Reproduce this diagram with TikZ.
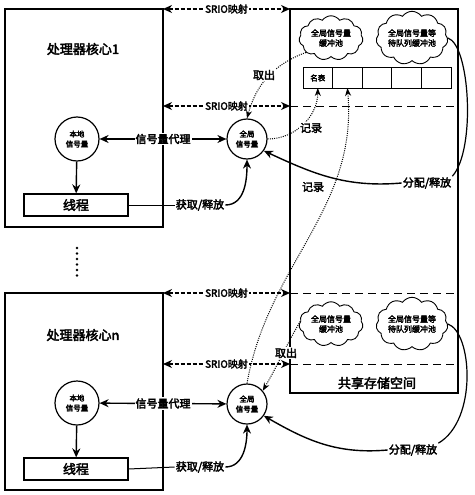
\documentclass[tikz,border=0pt]{standalone}
\usepackage{fontspec}
\setmainfont{Noto Sans CJK SC}[AutoFakeBold=3]
\usetikzlibrary{arrows.meta,positioning,shapes.symbols,calc}

\begin{document}
\begin{tikzpicture}[x=1pt,y=-1pt,
  corebox/.style={draw,line width=1.2pt,minimum width=158pt,inner sep=0pt,outer sep=0pt},
  threadbox/.style={draw,line width=1.2pt,minimum width=104pt,minimum height=22pt,inner sep=0pt,font=\bfseries\fontsize{13}{14}\selectfont},
  locsem/.style={draw,circle,line width=1.2pt,minimum size=44pt,inner sep=0pt,align=center,font=\bfseries\fontsize{7.5}{10}\selectfont},
  glbsem/.style={locsem,minimum size=40pt},
  pool/.style={draw,cloud,cloud puffs=11,cloud puff arc=110,aspect=1.5,line width=.9pt,inner sep=0pt,minimum width=64pt,minimum height=44pt,align=center,font=\bfseries\fontsize{8}{10}\selectfont},
  cell/.style={draw,line width=1pt,minimum width=29.6pt,minimum height=20pt,inner sep=0pt,outer sep=0pt,font=\bfseries\fontsize{7.5}{9}\selectfont},
  lbl/.style={font=\bfseries\fontsize{11}{12}\selectfont,inner sep=1pt},
  title/.style={font=\bfseries\fontsize{13}{14}\selectfont},
  srio/.style={{Stealth[length=9pt,width=8pt]}-{Stealth[length=9pt,width=8pt]},line width=1.4pt,dash pattern=on 4pt off 2pt},
  border/.style={line width=1pt,dash pattern=on 8pt off 5pt},
  solidarr/.style={-{Stealth[length=9pt,width=8pt]},line width=1.4pt},
  dotarr/.style={-{Stealth[length=8pt,width=6pt]},line width=1pt,dash pattern=on 1pt off 1.2pt},
]
\useasboundingbox (0,0) rectangle (474,495);

% processor core 1
\node[corebox,minimum height=218pt] (core1) at (84,118) {};
\node[title] (name1) at (83,49) {处理器核心1};
\node[locsem] (loc1) at (77,139) {本地\\信号量};
\node[threadbox] (thr1) at (76,205) {线程};
\node[glbsem] (glb1) at (247,139) {全局\\信号量};
\node[lbl] (get1) at (200,205) {获取/释放};

% processor core n
\node[corebox,minimum height=197pt] (coren) at (84,391.5) {};
\node[title] (namen) at (83,335) {处理器核心n};
\node[locsem] (locn) at (77,403) {本地\\信号量};
\node[threadbox] (thrn) at (76,469) {线程};
\node[glbsem] (glbn) at (247,404) {全局\\信号量};
\node[lbl] (getn) at (200,467) {获取/释放};

\foreach \y in {248,253.5,...,276} \fill (77,\y) circle (1.3pt);

% shared memory
\node[draw,line width=1.2pt,minimum width=168pt,minimum height=384pt,inner sep=0pt,outer sep=0pt] (shm) at (374,201) {};
\node[title] (shmname) at (377,383) {共享存储空间};
\node[pool] (pool1) at (331,38) {全局信号量\\缓冲池};
\node[pool,minimum width=68pt] (wait1) at (412,38) {全局信号量等\\待队列缓冲池};
\node[pool] (pooln) at (331,324) {全局信号量\\缓冲池};
\node[pool,minimum width=68pt] (waitn) at (412,324) {全局信号量等\\待队列缓冲池};
\node[cell] (c1) at (317.8,78) {名表};
\foreach \i [count=\prev from 1] in {2,...,5}
  \node[cell,right=0pt of c\prev] (c\i) {};

\coordinate (m1w) at (shm.west |- 0,106);
\coordinate (m1e) at (shm.east |- 0,106);
\coordinate (m2w) at (shm.west |- 0,293);
\coordinate (m2e) at (shm.east |- 0,293);
\coordinate (m3w) at (shm.west |- 0,364);
\coordinate (m3e) at (shm.east |- 0,364);
\draw[border] (m1w) -- (m1e);
\draw[border] (m2w) -- (m2e);
\draw[border] (m3w) -- (m3e);

% SRIO mapping
\draw[srio] (core1.north east) -- (shm.north west)
  node[midway,fill=white,inner sep=1pt,font=\bfseries\fontsize{10}{11}\selectfont] (srio1) {SRIO映射};
\draw[srio] (core1.east |- m1w) -- (m1w)
  node[midway,fill=white,inner sep=1pt,font=\bfseries\fontsize{10}{11}\selectfont] (srio2) {SRIO映射};
\draw[srio] (coren.north east) -- (m2w)
  node[midway,fill=white,inner sep=1pt,font=\bfseries\fontsize{10}{11}\selectfont] (srio3) {SRIO映射};
\draw[srio] (coren.east |- m3w) -- (m3w)
  node[midway,fill=white,inner sep=1pt,font=\bfseries\fontsize{10}{11}\selectfont] (srio4) {SRIO映射};

% core 1 links
\draw[solidarr,{Stealth[length=9pt,width=8pt]}-{Stealth[length=9pt,width=8pt]}] (loc1) -- (glb1)
  node[midway,fill=white,lbl] (proxy1) {信号量代理};
\draw[solidarr] (loc1) -- (thr1);
\draw[line width=1pt] (thr1.east) -- (get1.west);
\draw[solidarr] (get1.east) to[out=0,in=-90] (glb1.south);
\draw[dotarr] (pool1.210) to[out=200,in=75] (glb1.north);
\node[lbl,fill=white] (take1) at (264,75) {取出};
\draw[dotarr] (glb1.east) to[out=0,in=-90] (c1.south);
\node[lbl,fill=white] (rec1) at (311,128) {记录};
\node[lbl] (alloc1) at (427,183) {分配/释放};
\draw[line width=1.2pt] (wait1.east) .. controls (470,45) and (476,150) .. (alloc1.north east);
\draw[solidarr] (alloc1.west) to[out=185,in=-25] (glb1.-35);

% core n links
\draw[solidarr,{Stealth[length=9pt,width=8pt]}-{Stealth[length=9pt,width=8pt]}] (locn) -- (glbn)
  node[midway,fill=white,lbl] (proxyn) {信号量代理};
\draw[solidarr] (locn) -- (thrn);
\draw[line width=1pt] (thrn.east) -- (getn.west);
\draw[solidarr] (getn.east) to[out=0,in=-90] (glbn.south);
\draw[dotarr] (glbn.north) to[out=80,in=-85] (c2.south);
\node[lbl,fill=white] (rec2) at (313,187) {记录};
\draw[dotarr] (pooln.175) to[out=240,in=60] (glbn.40);
\node[lbl,fill=white] (taken) at (286,353) {取出};
\node[lbl] (allocn) at (413,450) {分配/释放};
\draw[line width=1.2pt] (waitn.east) .. controls (472,332) and (478,420) .. (allocn.north east);
\draw[solidarr] (allocn.west) to[out=185,in=-30] (glbn.-35);
\end{tikzpicture}
\end{document}
